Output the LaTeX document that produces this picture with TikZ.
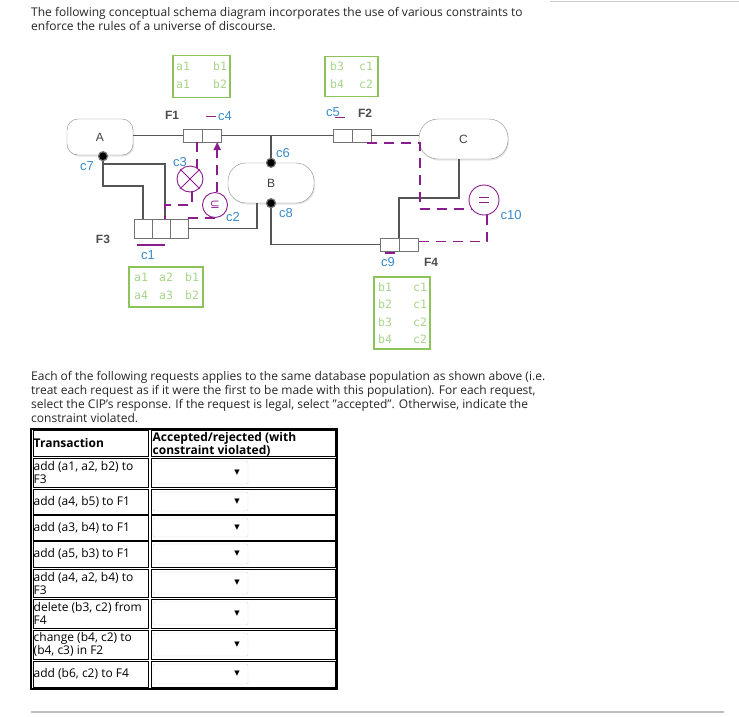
\documentclass[tikz,border=0pt]{standalone}
\usepackage{fontspec}
\setmainfont{Open Sans}
\newfontfamily\diagf{Liberation Sans}
\newfontfamily\monof{DejaVu Sans Mono}
\newfontfamily\symf{DejaVu Sans}
\usetikzlibrary{shadows,calc,arrows.meta}
\definecolor{cblue}{HTML}{3A8CCB}
\definecolor{cpurp}{HTML}{8B1C8B}
\definecolor{gbord}{HTML}{8DC45A}
\definecolor{gtext}{HTML}{A6D68A}
\definecolor{lnk}{HTML}{555555}
\begin{document}
\begin{tikzpicture}[x=1pt,y=-1pt,
  ent/.style={draw=black!45, fill=white, inner sep=0pt, font=\diagf\fontsize{12}{12}\selectfont, text=black!75, drop shadow={opacity=0.2, shadow xshift=1pt, shadow yshift=-1.5pt}},
  cell/.style={draw=black!55, fill=white, minimum width=19pt, minimum height=13pt, inner sep=0pt, outer sep=0pt, drop shadow={opacity=0.2, shadow xshift=1pt, shadow yshift=-1pt}},
  conn/.style={draw=lnk, line width=1.5pt},
  cons/.style={draw=cpurp, line width=1.8pt, dash pattern=on 10pt off 7pt},
  ccirc/.style={circle, draw=cpurp, line width=0.9pt, fill=white, minimum size=26pt, inner sep=0pt},
  blackdot/.style={circle, fill=black, draw=black!55, line width=1.2pt, minimum size=9pt, inner sep=0pt},
  clab/.style={font=\diagf\fontsize{13}{14}\selectfont, text=cblue, inner sep=0pt},
  flab/.style={font=\diagf\bfseries\fontsize{12}{13}\selectfont, text=black!70, inner sep=0pt},
  ubar/.style={draw=cpurp, line width=1.1pt},
  gbox/.style={draw=gbord, line width=1.6pt, fill=white, inner sep=0pt},
  gval/.style={font=\monof\fontsize{11.5}{12}\selectfont, text=gtext, inner sep=0pt},
  body/.style={font=\fontsize{12}{14}\selectfont, anchor=base west, inner sep=0pt, text=black!85},
  tcell/.style={font=\fontsize{12}{13}\selectfont, anchor=west, align=left, inner sep=0pt, text=black},
  thead/.style={font=\bfseries\fontsize{12}{13}\selectfont, anchor=west, align=left, inner sep=0pt, text=black},
]
\useasboundingbox (0,0) rectangle (739,716);
\fill[white] (0,0) rectangle (739,716);
\draw[black!20, line width=1pt] (550,1) -- (739,1);

% title
\node[body] (t1) at (31,16) {The following conceptual schema diagram incorporates the use of various constraints to};
\node[body] (t2) at (31,30) {enforce the rules of a universe of discourse.};

% entities
\node[ent, minimum width=66pt, minimum height=36pt, rounded corners=11pt] (A) at (100,137) {A};
\node[ent, minimum width=86pt, minimum height=40pt, rounded corners=18pt] (B) at (271,183) {B};
\node[ent, minimum width=89pt, minimum height=40pt, rounded corners=19pt] (C) at (463.5,139) {C};

% fact type boxes
\node[cell] (F1a) at (192.5,135.5) {};
\node[cell] (F1b) at (211.5,135.5) {};
\node[cell] (F2a) at (342.5,135.5) {};
\node[cell] (F2b) at (361.5,135.5) {};
\node[cell] (F4a) at (389.5,244.5) {};
\node[cell] (F4b) at (408.5,244.5) {};
\node[cell, minimum width=18pt, minimum height=19pt] (F3a) at (143,228.5) {};
\node[cell, minimum width=18pt, minimum height=19pt] (F3b) at (161,228.5) {};
\node[cell, minimum width=18pt, minimum height=19pt] (F3c) at (179,228.5) {};

% connectors
\coordinate (c7p) at ($(A.south)+(3,1)$);
\draw[conn] (F1a.west -| A.east) -- (F1a.west);
\draw[conn] (F1b.east) -- (F2a.west);
\draw[conn] (F2b.east) -- (F2b.east -| C.west);
\draw[conn] (B.north |- F1b.east) -- (B.north);
\draw[conn] (c7p) |- ($(F3b.north)+(4,-55)$) -- ($(F3b.north)+(4,0)$);
\draw[conn] (c7p) |- ($(F3a.north)+(0,-33)$) -- (F3a.north);
\draw[conn] (F3c.east) -| ($(B.south)+(-14,0)$);
\draw[conn] (B.south) |- (F4a.west);
\draw[conn] (F4a.north east) |- ($(C.south)+(-4.5,39)$) -- ($(C.south)+(-4.5,0)$);

% dots
\node[blackdot] (c7d) at (c7p) {};
\node[blackdot] (c6d) at (B.north) {};
\node[blackdot] (c8d) at (B.south) {};

% constraint circles
\node[ccirc] (c3) at (190,179) {};
\draw[cpurp, line width=0.9pt] (c3.45) -- (c3.225) (c3.135) -- (c3.-45);
\node[ccirc, minimum size=25pt, font=\symf\fontsize{12}{12}\selectfont, text=cpurp] (c2) at (215,205) {⊆};
\node[ccirc, minimum size=30pt] (c10) at (484,200) {};
\draw[cpurp, line width=0.8pt] ($(c10.center)+(-5,-2.5)$) -- ++(10,0) ($(c10.center)+(-5,2.5)$) -- ++(10,0);

% constraint paths
\draw[cons] (c3.57 |- F1a.south) -- (c3.57);
\draw[cons] (c3.-81) |- ($(F3b.north)+(4,-14)$) -- ($(F3b.north)+(4,0)$);
\draw[cons, -{Triangle[length=8pt,width=7pt]}] (c2.80) -- (c2.80 |- F1b.south);
\draw[cons] (c2.south) -- (c2.south -| F3c.east);
\draw[cons] ($(F2b.south east)+(-4,1)$) -| ($(c10.217)+(-52,0)$) -- (c10.217);
\draw[cons] (c10.-78) |- ($(F4b.east)+(0,-3)$);

% uniqueness bars
\draw[ubar] ($(F1b.north)+(-5.5,-12.5)$) -- ++(10,0);
\draw[ubar] ($(F2a.north)+(-7.5,-11.5)$) -- ++(10,0);
\draw[ubar] ($(F3a.south)+(-6,7)$) -- ++(28,0);
\draw[ubar] ($(F4a.south)+(-4.5,2)$) -- ++(10,0);

% labels
\node[flab] (lF1) at (172,115) {F1};
\node[clab] (lc4) at (225,116) {c4};
\node[clab] (lc5) at (333,112) {c5};
\node[flab] (lF2) at (365,113) {F2};
\node[clab] (lc6) at (283,153) {c6};
\node[clab] (lc7) at (87,166) {c7};
\node[clab] (lc3) at (180,162) {c3};
\node[clab] (lc2) at (233,217) {c2};
\node[clab] (lc8) at (286,213) {c8};
\node[flab] (lF3) at (103,239) {F3};
\node[clab] (lc1) at (148,255) {c1};
\node[clab] (lc9) at (388,262) {c9};
\node[flab] (lF4) at (431,262) {F4};
\node[clab] (lc10) at (511,215) {c10};

% population boxes
\node[gbox, minimum width=57pt, minimum height=42pt] (g1) at (201.5,76.5) {};
\node[gval] at (183,66) {a1}; \node[gval] at (220,66) {b1};
\node[gval] at (183,84) {a1}; \node[gval] at (220,84) {b2};
\node[gbox, minimum width=53pt, minimum height=40pt] (g2) at (351.5,76.5) {};
\node[gval] at (337,66) {b3}; \node[gval] at (366,66) {c1};
\node[gval] at (337,84) {b4}; \node[gval] at (366,84) {c2};
\node[gbox, minimum width=74pt, minimum height=40pt] (g3) at (166,287) {};
\node[gval] at (141,277) {a1}; \node[gval] at (166,277) {a2}; \node[gval] at (192,277) {b1};
\node[gval] at (141,295) {a4}; \node[gval] at (166,295) {a3}; \node[gval] at (192,295) {b2};
\node[gbox, minimum width=56pt, minimum height=72pt] (g4) at (402,313) {};
\node[gval] at (385,287) {b1}; \node[gval] at (420,287) {c1};
\node[gval] at (385,304) {b2}; \node[gval] at (420,304) {c1};
\node[gval] at (385,322) {b3}; \node[gval] at (420,322) {c2};
\node[gval] at (385,339) {b4}; \node[gval] at (420,339) {c2};

% paragraph
\node[body] (p1) at (31,380) {Each of the following requests applies to the same database population as shown above (i.e.};
\node[body] (p2) at (31,394) {treat each request as if it were the first to be made with this population). For each request,};
\node[body] (p3) at (31,408) {select the CIP's response. If the request is legal, select "accepted". Otherwise, indicate the};
\node[body] (p4) at (31,422) {constraint violated.};

% table
\draw[line width=2pt] (31,429) rectangle (337,688.5);
\foreach \t/\b in {430/456,458/487,489/514,515/540,541/567,569/597,599/628,630/659,661/687}{
  \draw[line width=0.9pt] (33,\t) rectangle (148.5,\b);
  \draw[line width=0.9pt] (151,\t) rectangle (335,\b);
}
\foreach \t/\b in {458/487,489/514,515/540,541/567,569/597,599/628,630/659,661/687}{
  \draw[black!15, fill=white, rounded corners=2pt] (153,\t+3) rectangle (248,\b-3);
  \node[font=\symf\fontsize{7}{7}\selectfont, inner sep=0pt] at (237,{(\t+\b)/2}) {▼};
}
\node[thead] (h1) at (33.5,443) {Transaction};
\node[thead] (h2) at (152.5,444) {Accepted/rejected (with\\constraint violated)};
\node[tcell] (r1) at (33.5,472.5) {add (a1, a2, b2) to\\F3};
\node[tcell] (r2) at (33.5,501.5) {add (a4, b5) to F1};
\node[tcell] (r3) at (33.5,527.5) {add (a3, b4) to F1};
\node[tcell] (r4) at (33.5,554) {add (a5, b3) to F1};
\node[tcell] (r5) at (33.5,583) {add (a4, a2, b4) to\\F3};
\node[tcell] (r6) at (33.5,613.5) {delete (b3, c2) from\\F4};
\node[tcell] (r7) at (33.5,644.5) {change (b4, c2) to\\(b4, c3) in F2};
\node[tcell] (r8) at (33.5,674) {add (b6, c2) to F4};

\draw[black!25, line width=1.5pt] (31,712) -- (724,712);
\end{tikzpicture}
\end{document}
